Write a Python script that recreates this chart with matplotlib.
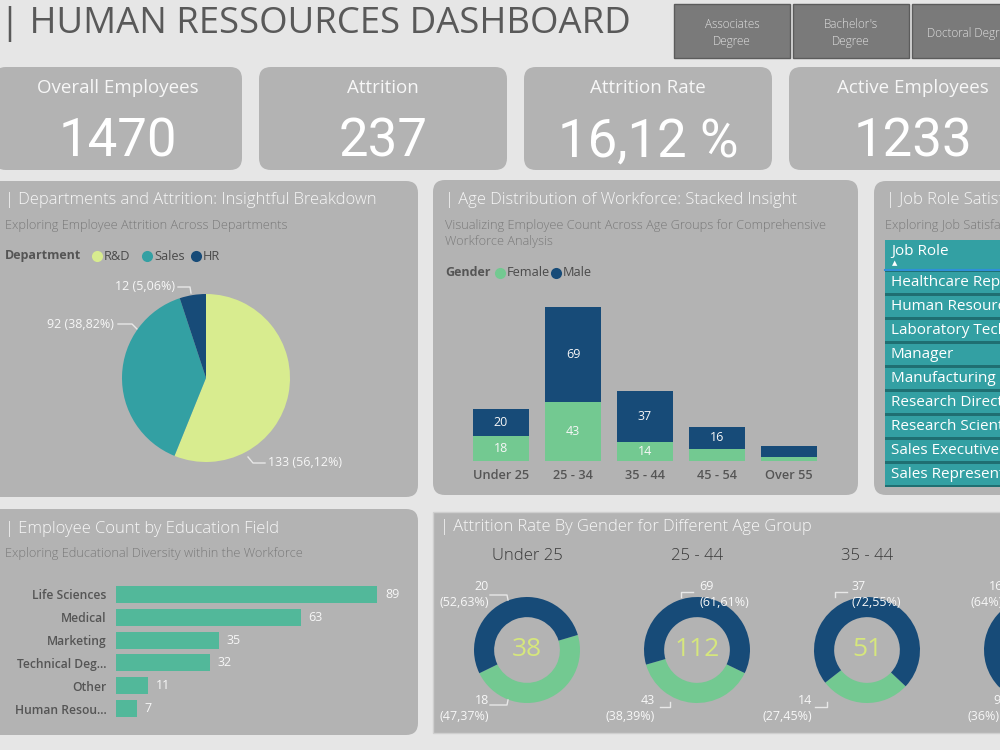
"""Human resources dashboard recreated with matplotlib."""
import matplotlib

matplotlib.use("Agg")
import matplotlib.pyplot as plt
from matplotlib.patches import FancyBboxPatch, Rectangle
from matplotlib.transforms import offset_copy

plt.rcParams["font.family"] = ["Open Sans", "DejaVu Sans"]

# ---- data ----
kpi_titles = ["Overall Employees", "Attrition", "Attrition Rate", "Active Employees"]
kpi_values = ["1470", "237", "16,12 %", "1233"]
degree_buttons = ["Associates\nDegree", "Bachelor's\nDegree", "Doctoral Degree"]

departments = ["R&D", "Sales", "HR"]
dept_attrition = [133, 92, 12]

age_groups = ["Under 25", "25 - 34", "35 - 44", "45 - 54", "Over 55"]
female_by_age = [18, 43, 14, 9, 3]
male_by_age = [20, 69, 37, 16, 8]

job_roles = ["Healthcare Representative", "Human Resources", "Laboratory Technician",
             "Manager", "Manufacturing Director", "Research Director",
             "Research Scientist", "Sales Executive", "Sales Representative"]

edu_fields = ["Life Sciences", "Medical", "Marketing", "Technical Deg...", "Other",
              "Human Resou..."]
edu_counts = [89, 63, 35, 32, 11, 7]

donut_groups = ["Under 25", "25 - 44", "35 - 44", "45 - 54"]
donut_female = [18, 43, 14, 9]
donut_male = [20, 69, 37, 16]

# ---- style ----
BG = "#e6e6e6"
PANEL = "#b3b3b3"
WHITE = "#f7f7f7"
SUB = "#7a7a7a"
DARK = "#555555"
LIME = "#d8ec8f"
TEAL = "#33a0a3"
NAVY = "#174b78"
GREEN = "#73c991"
EDU = "#52b89a"
W, H = 1000, 750


def pct(part, total):
    s = f"{part / total * 100:.2f}".rstrip("0").rstrip(".")
    return s.replace(".", ",") + "%"


fig = plt.figure(figsize=(10, 7.5), dpi=100, facecolor=BG)
bg = fig.add_axes([0, 0, 1, 1])
bg.set_xlim(0, W)
bg.set_ylim(H, 0)
bg.axis("off")


def px_axes(x0, y0, x1, y1):
    return fig.add_axes([x0 / W, 1 - y1 / H, (x1 - x0) / W, (y1 - y0) / H])


def panel(x0, y0, x1, y1, r=12, fc=PANEL, ec="none"):
    bg.add_patch(FancyBboxPatch((x0, y0), x1 - x0, y1 - y0,
                                boxstyle=f"round,pad=0,rounding_size={r}",
                                fc=fc, ec=ec, lw=1))


def title(x, y, s, size=11.9):
    bg.text(x, y, s, color=WHITE, fontsize=size, fontweight="light", va="center")


def subtitle(x, y, s):
    bg.text(x, y, s, color=SUB, fontsize=9.2, fontweight="light", va="center")


def legend(x, y, head, names, colors, gaps):
    bg.text(x, y, head, color=DARK, fontsize=9, fontweight="bold", va="center")
    for name, col, gx in zip(names, colors, gaps):
        bg.plot([gx], [y], "o", ms=8, color=col, mec="none")
        bg.text(gx + 7, y, name, color="#4a4a4a", fontsize=9.2, va="center")


# ---- header ----
bg.text(0, 24, "| HUMAN RESSOURCES DASHBOARD", color="#595959", fontsize=26.3, va="center")
for i, lab in enumerate(degree_buttons):
    x0 = 674 + 119 * i
    bg.add_patch(Rectangle((x0, 4), 116, 54, fc="#7a7a7a", ec="#5c5c5c", lw=1))
    bg.text(x0 + 58, 33, lab, color="#dedede", fontsize=8.5, fontweight="light",
            ha="center", va="center", linespacing=1.5)

# ---- KPI cards ----
for i, (t, v) in enumerate(zip(kpi_titles, kpi_values)):
    x0 = -6 + 265 * i
    panel(x0, 67, x0 + 248, 170)
    cx = x0 + 124
    bg.text(cx, 88, t, color=WHITE, fontsize=13.5, ha="center", va="center")
    bg.text(cx, 142, v, color="white", fontsize=38, family="Roboto",
            ha="center", va="center")

# ---- departments pie ----
panel(-20, 181, 418, 497)
title(5, 200, "| Departments and Attrition: Insightful Breakdown")
subtitle(5, 226, "Exploring Employee Attrition Across Departments")
legend(5, 256, "Department", departments, [LIME, TEAL, NAVY], [97, 147, 196])
ax = px_axes(122, 294, 290, 462)
ax.pie(dept_attrition, colors=[LIME, TEAL, NAVY], startangle=90, counterclock=False,
       radius=1, wedgeprops=dict(linewidth=0))
ax.set_xlim(-1, 1)
ax.set_ylim(-1, 1)
tot = sum(dept_attrition)
pie_lbl = [(268, 463, "left"), (114, 324, "right"), (175, 287, "right")]
pie_lead = [[(248, 457), (253, 463), (265, 463)],
            [(118, 324), (132, 324), (138, 330)],
            [(178, 287), (190, 287), (191, 293)]]
for v, (lx, ly, ha), pts in zip(dept_attrition, pie_lbl, pie_lead):
    bg.text(lx, ly, f"{v} ({pct(v, tot)})", color=WHITE, fontsize=9, ha=ha, va="center")
    bg.plot(*zip(*pts), color="#e8e8e8", lw=1)

# ---- age stacked bars ----
panel(433, 180, 858, 495)
title(445, 200, "| Age Distribution of Workforce: Stacked Insight")
subtitle(445, 225, "Visualizing Employee Count Across Age Groups for Comprehensive")
subtitle(445, 242, "Workforce Analysis")
legend(445, 273, "Gender", ["Female", "Male"], [GREEN, NAVY], [500, 556])
ax = px_axes(465, 300, 825, 461)
xs = range(len(age_groups))
ax.bar(xs, female_by_age, width=0.78, color=GREEN)
ax.bar(xs, male_by_age, width=0.78, bottom=female_by_age, color=NAVY)
for x, f, m in zip(xs, female_by_age, male_by_age):
    if f >= 10:
        ax.text(x, f / 2, str(f), color=WHITE, fontsize=9, ha="center", va="center")
    if m >= 10:
        ax.text(x, f + m / 2, str(m), color=WHITE, fontsize=9, ha="center", va="center")
ax.set_xlim(-0.5, len(age_groups) - 0.5)
ax.set_ylim(0, 117)
ax.set_xticks(list(xs), age_groups, color="#555555", fontsize=9.2, fontweight="semibold")
ax.tick_params(length=0, pad=6)
ax.set_yticks([])
for s in ax.spines.values():
    s.set_visible(False)
ax.patch.set_visible(False)

# ---- job role table ----
panel(874, 181, 1030, 495)
title(886, 200, "| Job Role Satisfaction")
subtitle(885, 226, "Exploring Job Satisfaction Across Roles")
bg.add_patch(Rectangle((885, 240), 130, 30, fc=TEAL, ec="none"))
bg.text(891, 251, "Job Role", color="white", fontsize=11, va="center")
bg.text(895, 264, "\u25b2", color="white", fontsize=5, va="center", ha="center")
bg.plot([885, 1000], [270, 270], color="#2f8fd8", lw=1.5)
bg.add_patch(Rectangle((885, 271), 130, 216, fc="#1f6f72", ec="none"))
for i, role in enumerate(job_roles):
    y0 = 272 + 24 * i
    bg.add_patch(Rectangle((885, y0), 130, 21, fc=TEAL, ec="none"))
    bg.text(891, y0 + 10.5, role, color="white", fontsize=11, va="center")

# ---- education bars ----
panel(-20, 509, 418, 735)
title(5, 529, "| Employee Count by Education Field")
subtitle(5, 554, "Exploring Educational Diversity within the Workforce")
ax = px_axes(116, 583, 410, 720)
ys = range(len(edu_fields))
ax.barh(ys, edu_counts, height=0.75, color=EDU)
lbl_tr = offset_copy(ax.transData, fig=fig, x=8, y=0, units="dots")
for y, v in zip(ys, edu_counts):
    ax.text(v, y, str(v), color=WHITE, fontsize=9, va="center", transform=lbl_tr)
ax.set_xlim(0, 100.3)
ax.set_ylim(len(edu_fields) - 0.5, -0.5)
ax.set_yticks(list(ys), edu_fields, color="#555555", fontsize=8.7, fontweight="semibold")
ax.tick_params(length=0, pad=7)
ax.set_xticks([])
for s in ax.spines.values():
    s.set_visible(False)
ax.patch.set_visible(False)

# ---- donuts ----
bg.add_patch(Rectangle((433, 512), 600, 221, fc=PANEL, ec="#cfcfcf", lw=1))
title(440, 527, "| Attrition Rate By Gender for Different Age Group")
starts = [206, 196, 218, 225]
male_off = [(-38, "right"), (2, "left"), (-15, "left"), (-34, "right")]
fem_off = [(-38, "right"), (-42, "right"), (-55, "right"), (-37, "right")]
male_lead = [[(-37, 595), (-20, 595), (-19, 600)], [(-16, 597), (-16, 592), (-4, 592)],
             [(-32, 597), (-32, 592), (-20, 592)], [(-33, 595), (-18, 595), (-17, 600)]]
fem_lead = [[(-37, 705), (-20, 705), (-19, 700)], [(-37, 707), (-27, 707), (-27, 702)],
            [(-52, 707), (-40, 707), (-40, 702)], [(-33, 705), (-18, 705), (-17, 700)]]
for k, (grp, f, m) in enumerate(zip(donut_groups, donut_female, donut_male)):
    cx = 527 + 170 * k
    bg.text(cx, 556, grp, color="#3a3a3a", fontsize=12, fontweight="light",
            ha="center", va="center")
    ax = px_axes(cx - 53, 597, cx + 53, 703)
    ax.pie([f, m], colors=[GREEN, NAVY], startangle=starts[k], counterclock=True,
           radius=1, wedgeprops=dict(width=0.38, linewidth=0))
    ax.set_xlim(-1, 1)
    ax.set_ylim(-1, 1)
    ax.text(0, 0, str(f + m), color="#d6e77c", fontsize=19, ha="center", va="center")

# labels drawn above the rings
top = fig.add_axes([0, 0, 1, 1], zorder=5)
top.set_xlim(0, W)
top.set_ylim(H, 0)
top.axis("off")
for k, (f, m) in enumerate(zip(donut_female, donut_male)):
    cx = 527 + 170 * k
    dx, ha = male_off[k]
    top.text(cx + dx, 587, str(m), color=WHITE, fontsize=9, ha=ha, va="center")
    top.text(cx + dx, 603, f"({pct(m, f + m)})", color=WHITE, fontsize=9, ha=ha, va="center")
    dx, ha = fem_off[k]
    top.text(cx + dx, 700, str(f), color=WHITE, fontsize=9, ha=ha, va="center")
    top.text(cx + dx, 717, f"({pct(f, f + m)})", color=WHITE, fontsize=9, ha=ha, va="center")
    for pts in (male_lead[k], fem_lead[k]):
        top.plot([cx + p[0] for p in pts], [p[1] for p in pts], color="#e8e8e8", lw=1)

fig.savefig("out.png", dpi=100, facecolor=BG)
